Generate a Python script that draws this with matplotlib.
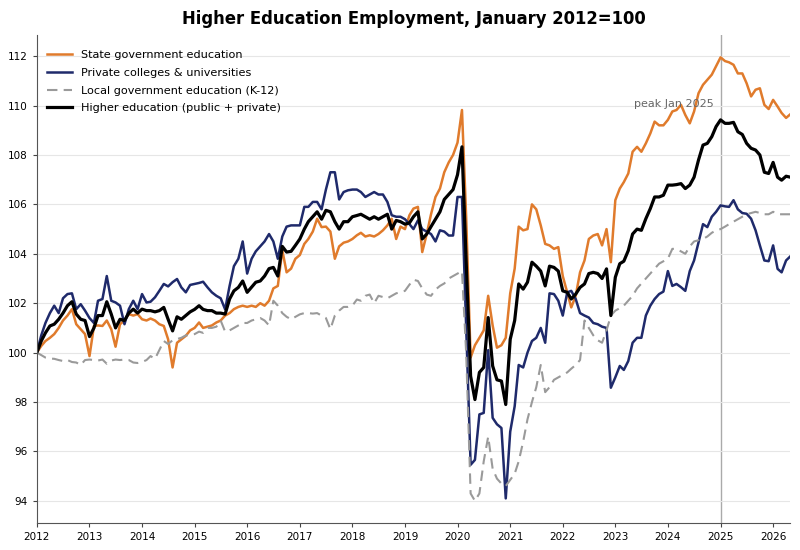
import matplotlib
matplotlib.use("Agg")
import matplotlib.pyplot as plt
import matplotlib.dates as mdates
import pandas as pd

start_month = "2012-01-01"

state_gov = [
    100.0, 100.27, 100.47, 100.6, 100.75, 101.0, 101.3, 101.5, 101.76, 101.15, 100.95, 100.75,
    99.86, 101.08, 101.1, 101.08, 101.3, 100.95, 100.24, 101.15, 101.3, 101.56, 101.5, 101.56,
    101.35, 101.3, 101.38, 101.3, 101.15, 101.08, 100.54, 99.4, 100.4, 100.54, 100.68, 100.9,
    101.0, 101.22, 101.0, 101.05, 101.1, 101.22, 101.3, 101.5, 101.6, 101.76, 101.85, 101.9,
    101.85, 101.9, 101.85, 102.0, 101.9, 102.1, 102.6, 102.7, 104.15, 103.25, 103.4, 103.8,
    103.95, 104.4, 104.6, 104.9, 105.42, 105.08, 105.1, 104.9, 103.8, 104.3, 104.45, 104.5,
    104.6, 104.75, 104.85, 104.7, 104.75, 104.7, 104.8, 104.95, 105.15, 105.42, 104.6, 105.1,
    105.0, 105.56, 105.83, 105.9, 104.07, 104.8, 105.6, 106.3, 106.64, 107.3, 107.7, 108.0,
    108.5, 109.82, 105.5, 99.8, 100.3, 100.6, 100.9, 102.3, 101.1, 100.2, 100.3, 100.6,
    102.4, 103.4, 105.1, 104.95, 105.0, 106.0, 105.8, 105.15, 104.4, 104.34, 104.2, 104.27,
    103.1, 102.44, 101.83, 102.3, 103.25, 103.73, 104.6, 104.74, 104.8, 104.34, 105.0, 103.66,
    106.17, 106.64, 106.9, 107.25, 108.13, 108.33, 108.13, 108.47, 108.87, 109.35, 109.2, 109.2,
    109.42, 109.76, 109.82, 110.03, 109.62, 109.28, 109.76, 110.5, 110.84, 111.04, 111.25, 111.59,
    111.95, 111.8, 111.75, 111.65, 111.3, 111.3, 110.9, 110.37, 110.64, 110.7, 110.03, 109.86,
    110.23, 109.96, 109.7, 109.5, 109.65,
]

private_colleges = [
    100.0, 100.7, 101.2, 101.6, 101.9, 101.6, 102.2, 102.37, 102.4, 101.76, 101.96, 101.7,
    101.4, 101.2, 102.1, 102.17, 103.1, 102.1, 102.03, 101.9, 101.15, 101.76, 102.1, 101.76,
    102.37, 102.03, 102.06, 102.24, 102.5, 102.78, 102.68, 102.85, 102.98, 102.64, 102.44, 102.74,
    102.78, 102.82, 102.87, 102.64, 102.44, 102.3, 102.2, 101.75, 102.7, 103.5, 103.8, 104.5,
    103.2, 103.8, 104.1, 104.3, 104.5, 104.8, 104.5, 103.8, 104.7, 105.1, 105.15, 105.15,
    105.15, 105.9, 105.9, 106.1, 106.1, 105.8, 106.6, 107.3, 107.3, 106.2, 106.5, 106.57,
    106.6, 106.6, 106.5, 106.3, 106.4, 106.5, 106.4, 106.4, 106.1, 105.56, 105.5, 105.5,
    105.4, 105.2, 105.0, 105.35, 105.0, 104.9, 104.8, 104.5, 104.95, 104.9, 104.74, 104.74,
    106.3, 106.3, 101.0, 95.46, 95.66, 97.5, 97.56, 100.1, 97.36, 97.1, 96.95, 94.1,
    96.8, 97.83, 99.5, 99.4, 100.0, 100.47, 100.6, 101.0, 100.4, 102.4, 102.37, 102.1,
    101.5, 102.44, 102.5, 102.17, 101.6, 101.5, 101.42, 101.2, 101.15, 101.05, 101.0, 98.58,
    99.0, 99.46, 99.3, 99.66, 100.4, 100.6, 100.6, 101.5, 101.9, 102.17, 102.37, 102.47,
    103.3, 102.7, 102.78, 102.65, 102.5, 103.3, 103.73, 104.47, 105.2, 105.08, 105.5, 105.7,
    105.96, 105.92, 105.9, 106.17, 105.8, 105.65, 105.62, 105.42, 104.95, 104.34, 103.73, 103.7,
    104.34, 103.39, 103.25, 103.73, 103.9,
]

local_gov_k12 = [
    100.0, 99.9, 99.8, 99.76, 99.75, 99.7, 99.66, 99.7, 99.62, 99.6, 99.5, 99.7,
    99.72, 99.7, 99.68, 99.72, 99.55, 99.68, 99.72, 99.7, 99.72, 99.7, 99.6, 99.58,
    99.62, 99.7, 99.86, 99.75, 100.1, 100.47, 100.35, 100.5, 100.55, 100.6, 100.7, 100.7,
    100.75, 100.85, 100.8, 101.0, 101.0, 101.05, 101.3, 100.85, 100.9, 101.0, 101.1, 101.2,
    101.2, 101.3, 101.35, 101.4, 101.3, 101.1, 102.1, 101.9, 101.6, 101.45, 101.35, 101.45,
    101.55, 101.6, 101.6, 101.58, 101.6, 101.5, 101.4, 100.95, 101.5, 101.7, 101.85, 101.85,
    101.9, 102.15, 102.1, 102.3, 102.35, 102.0, 102.3, 102.25, 102.2, 102.3, 102.4, 102.45,
    102.5, 102.75, 102.95, 102.9, 102.6, 102.35, 102.3, 102.55, 102.7, 102.8, 103.0, 103.1,
    103.2, 103.3, 100.0, 94.3, 94.0, 94.3, 95.6, 96.6, 95.3, 94.9, 94.7, 94.6,
    94.85, 95.1, 95.6, 96.4, 97.3, 98.0, 98.6, 99.5, 98.4, 98.6, 98.9, 99.0,
    99.1, 99.2, 99.35, 99.5, 99.7, 101.3, 101.0, 100.7, 100.5, 100.4, 100.9, 101.5,
    101.7, 101.8, 101.9, 102.1, 102.3, 102.6, 102.8, 103.0, 103.2, 103.4, 103.6, 103.7,
    103.8, 104.2, 104.2, 104.1, 104.0, 104.3, 104.5, 104.55, 104.6, 104.7, 104.85, 104.95,
    105.0, 105.1, 105.2, 105.3, 105.4, 105.5, 105.6, 105.65, 105.7, 105.65, 105.6, 105.6,
    105.7, 105.6, 105.6, 105.6, 105.6,
]

higher_ed = [
    100.0, 100.47, 100.8, 101.08, 101.15, 101.35, 101.6, 101.9, 102.06, 101.56, 101.35, 101.3,
    100.65, 101.0, 101.5, 101.5, 102.06, 101.56, 101.0, 101.35, 101.3, 101.6, 101.76, 101.6,
    101.76, 101.7, 101.7, 101.65, 101.7, 101.83, 101.35, 100.88, 101.45, 101.35, 101.5, 101.65,
    101.75, 101.9, 101.75, 101.7, 101.7, 101.6, 101.6, 101.56, 102.17, 102.5, 102.64, 102.9,
    102.44, 102.65, 102.85, 102.9, 103.1, 103.4, 103.45, 103.1, 104.3, 104.07, 104.1, 104.34,
    104.6, 105.0, 105.3, 105.5, 105.7, 105.4, 105.76, 105.7, 105.3, 105.0, 105.3, 105.3,
    105.5, 105.55, 105.6, 105.5, 105.4, 105.5, 105.4, 105.5, 105.6, 105.0, 105.35, 105.3,
    105.2, 105.25, 105.5, 105.7, 104.6, 104.8, 105.1, 105.4, 105.7, 106.2, 106.4, 106.6,
    107.2, 108.33, 103.7, 99.05, 98.1, 99.2, 99.4, 101.42, 99.46, 98.9, 98.85, 97.9,
    100.54, 101.3, 102.78, 102.57, 102.85, 103.66, 103.5, 103.3, 102.7, 103.5, 103.45, 103.3,
    102.5, 102.44, 102.17, 102.37, 102.64, 102.78, 103.2, 103.25, 103.2, 103.0, 103.39, 101.5,
    103.05, 103.6, 103.7, 104.13, 104.8, 105.0, 104.95, 105.42, 105.83, 106.3, 106.3, 106.37,
    106.78, 106.78, 106.8, 106.84, 106.64, 106.78, 107.1, 107.8, 108.4, 108.47, 108.74, 109.15,
    109.42, 109.28, 109.28, 109.32, 108.94, 108.83, 108.47, 108.27, 108.2, 108.0, 107.3, 107.25,
    107.7, 107.1, 106.98, 107.14, 107.1,
]

labels = [
    "State government education",
    "Private colleges & universities",
    "Local government education (K-12)",
    "Higher education (public + private)",
]
peak_label = "peak Jan 2025"
peak_month = "2025-01-01"
title = "Higher Education Employment, January 2012=100"

dates = pd.date_range(start_month, periods=len(state_gov), freq="MS")

fig = plt.figure(figsize=(8, 5.5), dpi=100)
ax = fig.add_axes([0.046, 0.049, 0.942, 0.887])

ax.plot(dates, state_gov, color="#E07B2C", lw=1.8, label=labels[0])
ax.plot(dates, private_colleges, color="#1F2A6B", lw=1.8, label=labels[1])
ax.plot(dates, local_gov_k12, color="#9A9A9A", lw=1.5, ls=(0, (5, 3)), label=labels[2])
ax.plot(dates, higher_ed, color="black", lw=2.3, label=labels[3])

peak = pd.Timestamp(peak_month)
ax.axvline(peak, color="#AAAAAA", lw=1.0, zorder=0)
ax.annotate(peak_label, xy=(peak, 110.05), xytext=(-5, 0), textcoords="offset points",
            ha="right", va="center", fontsize=8, color="#666666")

ax.set_xlim(dates[0], dates[-1])
ax.margins(y=0.05)
ax.set_yticks(range(94, 113, 2))
ax.xaxis.set_major_locator(mdates.YearLocator())
ax.xaxis.set_major_formatter(mdates.DateFormatter("%Y"))
ax.tick_params(labelsize=7.5, length=3, color="#444444")
ax.yaxis.grid(True, color="#E6E6E6", lw=0.8)
ax.set_axisbelow(True)
for s in ["top", "right"]:
    ax.spines[s].set_visible(False)
for s in ["left", "bottom"]:
    ax.spines[s].set_color("#555555")

ax.legend(loc="upper left", frameon=False, fontsize=8.1, handlelength=2.2,
          labelspacing=0.68, bbox_to_anchor=(0.0, 0.99))
ax.set_title(title, fontsize=11.9, fontweight="bold", pad=8)

fig.savefig("out.png", dpi=100)
